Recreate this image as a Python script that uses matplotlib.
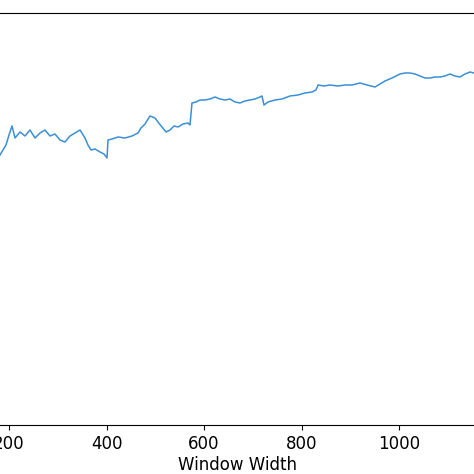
import matplotlib
matplotlib.use("Agg")
import matplotlib.pyplot as plt

px = [0,3,6,9,12,15,20,25,30,35,40,45,50,55,60,65,70,75,80,85,88,91,95,100,104,107,108,112,118,125,132,138,141,145,150,155,158,162,166,170,174,178,183,188,190,192,196,200,205,210,215,220,225,230,235,240,245,250,255,260,262,264,268,275,282,290,298,305,312,316,318,324,330,338,345,352,360,367,375,380,385,392,400,405,410,415,420,425,430,435,440,445,450,455,460,465,470,474]
py = [155,150,145,135,126,138,132,136,130,138,133,130,136,134,140,142,136,133,130,138,145,150,149,152,154,158,140,139,137,138,136,133,128,124,116,118,122,127,132,130,126,127,124,123,125,103,102,100,100,99,97,99,100,99,102,103,101,100,99,97,96,105,102,100,99,96,95,93,92,90,85,86,85,86,85,85,83,85,87,84,81,78,74,73,73,74,76,78,78,77,77,76,74,76,77,74,72,73]

x_vals = [200 + (p - 9) / 0.4875 for p in px]
y_vals = [425 - p for p in py]

fig = plt.figure(figsize=(4.74, 4.74), dpi=100)
ax = fig.add_axes([0.0, 49/474, 1.0, 412/474])
ax.plot(x_vals, y_vals, color="#3b8fd6", lw=1.1)
ax.set_xlim(200 - 9/0.4875, 200 + (474-9)/0.4875)
ax.set_ylim(0, 412)
ax.set_xticks([200, 400, 600, 800, 1000])
ax.set_yticks([])
ax.spines["left"].set_visible(False)
ax.spines["right"].set_visible(False)
ax.tick_params(axis="x", labelsize=12)
ax.set_xlabel("Window Width", fontsize=12, labelpad=2)
fig.savefig("out.png", dpi=100)
